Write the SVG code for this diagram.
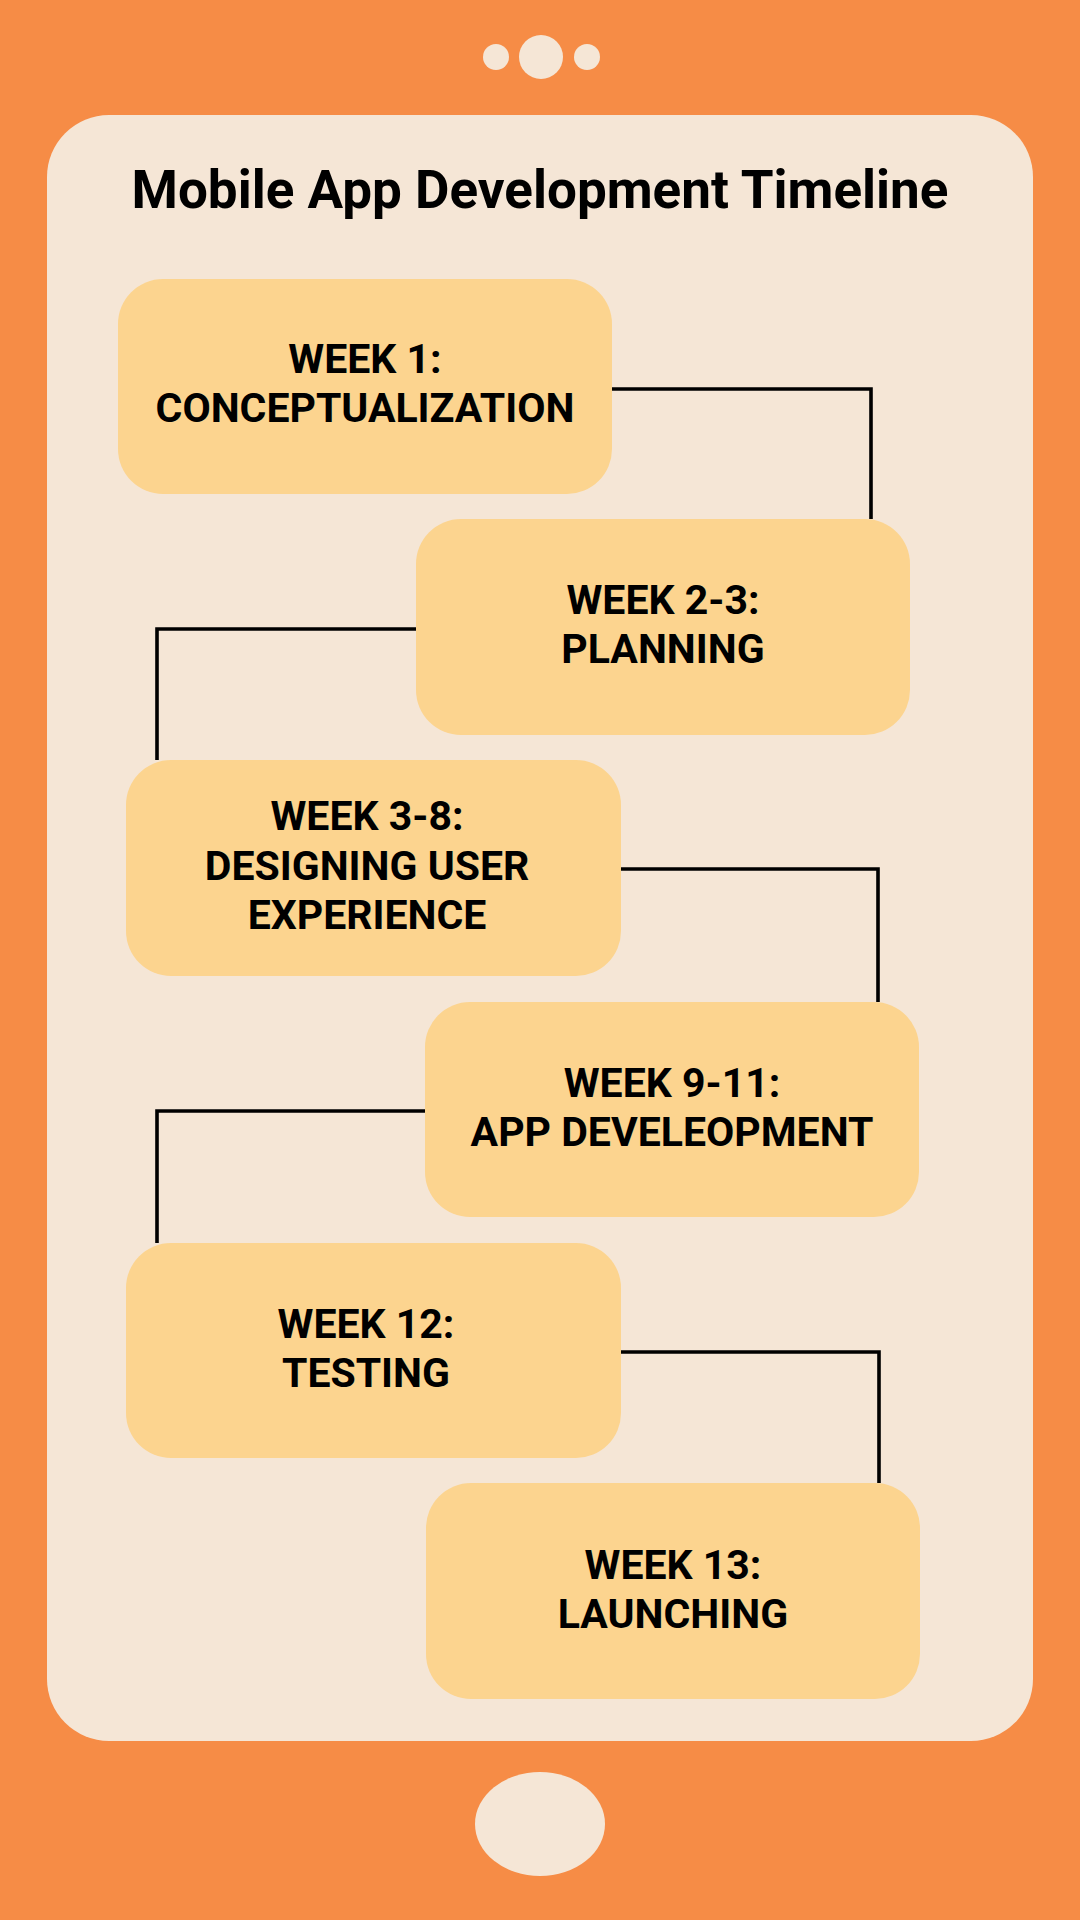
<svg xmlns="http://www.w3.org/2000/svg" width="1080" height="1920" viewBox="0 0 1080 1920">
  <style>
    .node rect { fill: #FCD48F; }
    .node text { font-family: Roboto, "Liberation Sans", sans-serif; font-weight: 700; font-size: 41px; fill: #000000; text-anchor: middle; }
    .title { font-family: Roboto, "Liberation Sans", sans-serif; font-weight: 700; font-size: 53px; fill: #000000; text-anchor: middle; }
    .conn path { fill: none; stroke: #000000; stroke-width: 3.6; stroke-linejoin: miter; }
  </style>
  <rect x="0" y="0" width="1080" height="1920" fill="#F68C46"/>
  <g id="phone-details" fill="#F5E6D6">
    <circle cx="496" cy="57" r="13"/>
    <circle cx="541" cy="57" r="22"/>
    <circle cx="587" cy="57" r="13"/>
    <ellipse cx="540" cy="1824" rx="65" ry="52"/>
  </g>
  <rect id="screen" x="47" y="115" width="986" height="1626" rx="62" ry="62" fill="#F5E6D6"/>
  <text class="title" x="540" y="208">Mobile App Development Timeline</text>
  <g id="connectors" class="conn">
    <path d="M612 389 H871 V519"/>
    <path d="M416 629 H157 V760"/>
    <path d="M621 869 H878 V1002"/>
    <path d="M425 1111 H157 V1243"/>
    <path d="M621 1352 H879 V1483"/>
  </g>
  <g id="node1" class="node">
    <rect x="118" y="279" width="494" height="215" rx="45" ry="45"/>
    <text x="365" y="373">WEEK 1:</text>
    <text x="365" y="422">CONCEPTUALIZATION</text>
  </g>
  <g id="node2" class="node">
    <rect x="416" y="519" width="494" height="216" rx="45" ry="45"/>
    <text x="663" y="614">WEEK 2-3:</text>
    <text x="663" y="663">PLANNING</text>
  </g>
  <g id="node3" class="node">
    <rect x="126" y="760" width="495" height="216" rx="45" ry="45"/>
    <text x="367" y="830">WEEK 3-8:</text>
    <text x="367" y="880">DESIGNING USER</text>
    <text x="367" y="929">EXPERIENCE</text>
  </g>
  <g id="node4" class="node">
    <rect x="425" y="1002" width="494" height="215" rx="45" ry="45"/>
    <text x="672" y="1097">WEEK 9-11:</text>
    <text x="672" y="1146">APP DEVELEOPMENT</text>
  </g>
  <g id="node5" class="node">
    <rect x="126" y="1243" width="495" height="215" rx="45" ry="45"/>
    <text x="366" y="1338">WEEK 12:</text>
    <text x="366" y="1387">TESTING</text>
  </g>
  <g id="node6" class="node">
    <rect x="426" y="1483" width="494" height="216" rx="45" ry="45"/>
    <text x="673" y="1579">WEEK 13:</text>
    <text x="673" y="1628">LAUNCHING</text>
  </g>
</svg>
